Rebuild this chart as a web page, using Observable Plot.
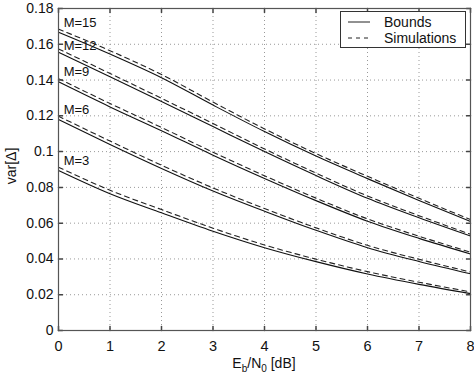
<!DOCTYPE html>
<html>
<head>
<meta charset="utf-8">
<script src="https://cdn.jsdelivr.net/npm/d3@7"></script>
<script src="https://cdn.jsdelivr.net/npm/@observablehq/plot@0.6"></script>
<style>
  html, body { margin: 0; padding: 0; background: #fff; }
  #wrap { position: relative; width: 474px; height: 376px; font-family: "Liberation Sans", Arial, sans-serif; color: #111; }
  #legend { position: absolute; left: 340px; top: 11px; width: 124px; height: 35px; border: 1px solid #333; background: #fff; font-size: 14px; }
  #legend .row { position: absolute; left: 0; height: 16px; display: flex; align-items: center; }
  #legend svg { margin-left: 7px; margin-right: 14px; }
  #xlabel { position: absolute; left: 0; width: 528px; top: 355px; text-align: center; font-size: 14px; }
  #xlabel sub { font-size: 10px; vertical-align: -4px; line-height: 0; }
  #ylabel { position: absolute; left: 11px; top: 166px; transform: translate(-50%, -50%) rotate(-90deg); font-size: 14px; white-space: nowrap; }
</style>
</head>
<body>
<div id="wrap"></div>
<script>
const ebn0 = [0, 1, 2, 3, 4, 5, 6, 7, 8];
const seriesNames = ["M=3", "M=6", "M=9", "M=12", "M=15"];
const bounds = [
  [0.0895, 0.0765, 0.0658, 0.0555, 0.0463, 0.0385, 0.0316, 0.0258, 0.0206],
  [0.1180, 0.1040, 0.0906, 0.0780, 0.0667, 0.0560, 0.0463, 0.0386, 0.0317],
  [0.1390, 0.1250, 0.1117, 0.0980, 0.0850, 0.0726, 0.0611, 0.0515, 0.0428],
  [0.1556, 0.1418, 0.1280, 0.1140, 0.1000, 0.0866, 0.0739, 0.0630, 0.0528],
  [0.1667, 0.1545, 0.1413, 0.1260, 0.1112, 0.0975, 0.0849, 0.0727, 0.0610]
];
const simulations = [
  [0.0913, 0.0784, 0.0676, 0.0572, 0.0478, 0.0399, 0.0329, 0.0270, 0.0216],
  [0.1198, 0.1059, 0.0924, 0.0797, 0.0682, 0.0574, 0.0476, 0.0398, 0.0327],
  [0.1408, 0.1269, 0.1135, 0.0997, 0.0865, 0.0740, 0.0624, 0.0527, 0.0438],
  [0.1574, 0.1437, 0.1298, 0.1157, 0.1015, 0.0880, 0.0752, 0.0642, 0.0538],
  [0.1685, 0.1564, 0.1431, 0.1277, 0.1127, 0.0989, 0.0862, 0.0739, 0.0620]
];
const labelX = [0.1, 0.1, 0.1, 0.1, 0.1];
const labelY = [0.0950, 0.1233, 0.1445, 0.1590, 0.1720];
const xTicks = [0, 1, 2, 3, 4, 5, 6, 7, 8];
const yTicks = [0, 0.02, 0.04, 0.06, 0.08, 0.1, 0.12, 0.14, 0.16, 0.18];

const boundRows = [], simRows = [];
seriesNames.forEach((name, i) => {
  ebn0.forEach((x, j) => {
    boundRows.push({series: name, x, y: bounds[i][j]});
    simRows.push({series: name, x, y: simulations[i][j]});
  });
});
const labels = seriesNames.map((name, i) => ({name, x: labelX[i], y: labelY[i]}));

const tickShape = {draw(context, l) { context.moveTo(0, 0); context.lineTo(0, -l); }};
const fmt = d => d === 0 ? "0" : String(+d.toFixed(2));

const chart = Plot.plot({
  width: 474,
  height: 376,
  marginLeft: 58,
  marginRight: 4,
  marginTop: 8,
  marginBottom: 46,
  style: {fontFamily: "Liberation Sans, Arial, sans-serif", fontSize: "13px", color: "#111", background: "#fff", overflow: "visible"},
  x: {domain: [0, 8]},
  y: {domain: [0, 0.18]},
  marks: [
    Plot.gridX(xTicks, {stroke: "#999", strokeOpacity: 1, strokeDasharray: "1,3"}),
    Plot.gridY(yTicks, {stroke: "#999", strokeOpacity: 1, strokeDasharray: "1,3"}),
    Plot.line(boundRows, {x: "x", y: "y", z: "series", stroke: "#111", strokeWidth: 1.1, curve: "monotone-x"}),
    Plot.line(simRows, {x: "x", y: "y", z: "series", stroke: "#222", strokeWidth: 1.1, strokeDasharray: "5,4", curve: "monotone-x"}),
    Plot.text(labels, {x: "x", y: "y", text: "name", textAnchor: "start", fontSize: 13, fill: "#111"}),
    Plot.vector(xTicks, {x: d => d, frameAnchor: "bottom", length: 4, rotate: 0, anchor: "start", shape: tickShape, stroke: "#444"}),
    Plot.vector(xTicks, {x: d => d, frameAnchor: "top", length: 4, rotate: 180, anchor: "start", shape: tickShape, stroke: "#444"}),
    Plot.vector(yTicks, {y: d => d, frameAnchor: "left", length: 4, rotate: 90, anchor: "start", shape: tickShape, stroke: "#444"}),
    Plot.vector(yTicks, {y: d => d, frameAnchor: "right", length: 4, rotate: -90, anchor: "start", shape: tickShape, stroke: "#444"}),
    Plot.frame({stroke: "#555", strokeWidth: 1.2}),
    Plot.axisX(xTicks, {tickSize: 0, tickPadding: 10, label: null, fontSize: 14.5}),
    Plot.axisY(yTicks, {tickSize: 0, tickPadding: 5, label: null, tickFormat: fmt, fontSize: 14})
  ]
});

const wrap = document.getElementById("wrap");
wrap.appendChild(chart);

const legend = document.createElement("div");
legend.id = "legend";
legend.innerHTML =
  '<div class="row" style="top:2px"><svg width="22" height="4"><line x1="0" y1="2" x2="22" y2="2" stroke="#222" stroke-width="1"/></svg><span>Bounds</span></div>' +
  '<div class="row" style="top:18px"><svg width="22" height="4"><line x1="0" y1="2" x2="22" y2="2" stroke="#222" stroke-width="1" stroke-dasharray="4,4"/></svg><span>Simulations</span></div>';
wrap.appendChild(legend);

const xl = document.createElement("div");
xl.id = "xlabel";
xl.innerHTML = 'E<sub>b</sub>/N<sub>0</sub> [dB]';
wrap.appendChild(xl);

const yl = document.createElement("div");
yl.id = "ylabel";
yl.textContent = "var[Δ]";
wrap.appendChild(yl);
</script>
</body>
</html>
